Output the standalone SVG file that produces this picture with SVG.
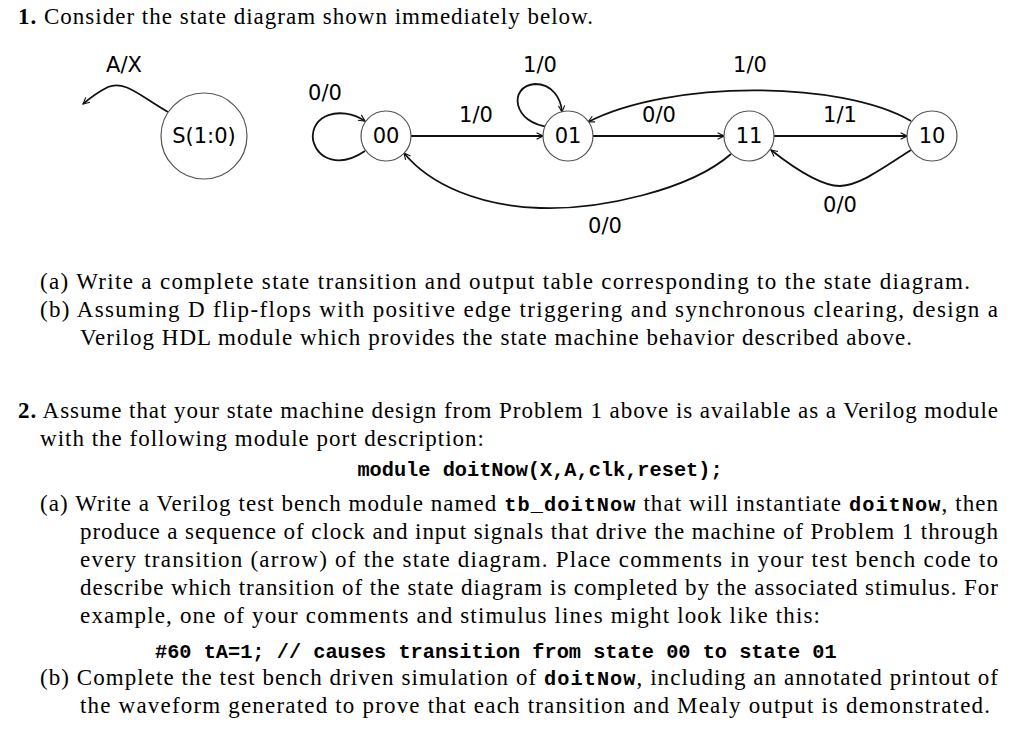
<svg xmlns="http://www.w3.org/2000/svg" width="1024" height="734" viewBox="0 0 1024 734">
<style>
.t{font-family:"Liberation Serif",serif;font-size:23px;fill:#000}
.m{font-family:"Liberation Mono",monospace;font-size:20.3px;font-weight:bold}
.s{font-family:"DejaVu Sans",sans-serif;font-size:21px;fill:#000}
.n{fill:#fff;stroke:#555;stroke-width:1.2}
.e{fill:none;stroke:#111;stroke-width:1.8;marker-end:url(#a)}
</style>
<defs><marker id="a" viewBox="0 0 10 10" refX="9" refY="5" markerWidth="8" markerHeight="8" orient="auto" markerUnits="userSpaceOnUse"><path d="M1,1 L9,5 L1,9" fill="none" stroke="#111" stroke-width="1.4"/></marker></defs>
<rect width="1024" height="734" fill="#fff"/>
<text class="t" x="18" y="24" textLength="575" lengthAdjust="spacing"><tspan font-weight="bold">1.</tspan> Consider the state diagram shown immediately below.</text>
<g id="connectors">
<path class="e" d="M168,112 C140,96 125,80 108,87 C98,92 90,98 83,104"/>
<path class="e" d="M365,151 C340,168 318,160 313,140 C310,115 340,105 365,121"/>
<path class="e" d="M411,136 L543,136"/>
<path class="e" d="M550,127 C512,124 508,86 535,84 C552,84 561,98 562,112"/>
<path class="e" d="M593,136 L724,136"/>
<path class="e" d="M774,136 L907,136"/>
<path class="e" d="M911,121 C840,80 670,80 588,122"/>
<path class="e" d="M731,154 C690,190 600,210 540,208 C480,206 430,185 404,153"/>
<path class="e" d="M911,150 C880,170 860,185 840,186 C820,186 790,165 771,150"/>
</g>
<g id="S"><circle class="n" cx="204" cy="136" r="43"/><text class="s" x="204" y="143" text-anchor="middle">S(1:0)</text></g>
<g id="n00"><circle class="n" cx="386" cy="136" r="25"/><text class="s" x="386" y="143" text-anchor="middle">00</text></g>
<g id="n01"><circle class="n" cx="568" cy="136" r="25"/><text class="s" x="568" y="143" text-anchor="middle">01</text></g>
<g id="n11"><circle class="n" cx="749" cy="136" r="25"/><text class="s" x="749" y="143" text-anchor="middle">11</text></g>
<g id="n10"><circle class="n" cx="932" cy="136" r="25"/><text class="s" x="932" y="143" text-anchor="middle">10</text></g>
<g class="s">
<text x="124" y="72" text-anchor="middle">A/X</text>
<text x="325" y="100" text-anchor="middle">0/0</text>
<text x="476" y="122" text-anchor="middle">1/0</text>
<text x="540" y="72" text-anchor="middle">1/0</text>
<text x="659" y="122" text-anchor="middle">0/0</text>
<text x="750" y="72" text-anchor="middle">1/0</text>
<text x="840" y="122" text-anchor="middle">1/1</text>
<text x="840" y="212" text-anchor="middle">0/0</text>
<text x="605" y="233" text-anchor="middle">0/0</text>
</g>
<text class="t" x="40" y="289" textLength="930" lengthAdjust="spacing">(a) Write a complete state transition and output table corresponding to the state diagram.</text>
<text class="t" x="40" y="317" textLength="958" lengthAdjust="spacing">(b) Assuming D flip-flops with positive edge triggering and synchronous clearing, design a</text>
<text class="t" x="80" y="345" textLength="832" lengthAdjust="spacing">Verilog HDL module which provides the state machine behavior described above.</text>
<text class="t" x="18" y="418" textLength="980" lengthAdjust="spacing"><tspan font-weight="bold">2.</tspan> Assume that your state machine design from Problem 1 above is available as a Verilog module</text>
<text class="t" x="40" y="446" textLength="444" lengthAdjust="spacing">with the following module port description:</text>
<text class="m" x="540" y="476" text-anchor="middle">module doitNow(X,A,clk,reset);</text>
<text class="t" x="40" y="511" textLength="958" lengthAdjust="spacing">(a) Write a Verilog test bench module named <tspan class="m">tb_doitNow</tspan> that will instantiate <tspan class="m">doitNow</tspan>, then</text>
<text class="t" x="80" y="539" textLength="918" lengthAdjust="spacing">produce a sequence of clock and input signals that drive the machine of Problem 1 through</text>
<text class="t" x="80" y="567" textLength="918" lengthAdjust="spacing">every transition (arrow) of the state diagram. Place comments in your test bench code to</text>
<text class="t" x="80" y="595" textLength="918" lengthAdjust="spacing">describe which transition of the state diagram is completed by the associated stimulus. For</text>
<text class="t" x="80" y="623" textLength="740" lengthAdjust="spacing">example, one of your comments and stimulus lines might look like this:</text>
<text class="m" x="155" y="658">#60 tA=1; // causes transition from state 00 to state 01</text>
<text class="t" x="40" y="685" textLength="958" lengthAdjust="spacing">(b) Complete the test bench driven simulation of <tspan class="m">doitNow</tspan>, including an annotated printout of</text>
<text class="t" x="80" y="713" textLength="910" lengthAdjust="spacing">the waveform generated to prove that each transition and Mealy output is demonstrated.</text>
</svg>
